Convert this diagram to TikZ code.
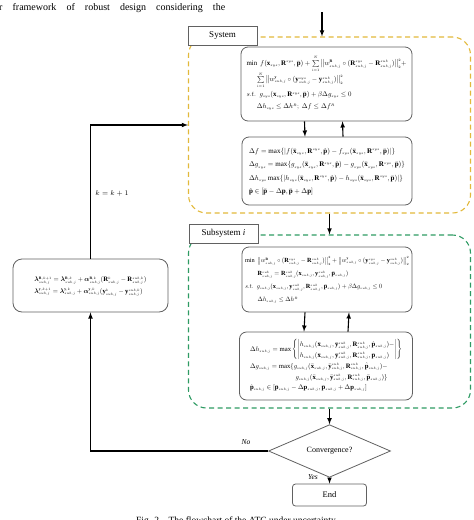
\documentclass[tikz,border=0pt]{standalone}
\usepackage{fontspec}
\setmainfont{Liberation Serif}
\usepackage{amsmath}
\usepackage{bm}
\usepackage{graphicx}
\usepackage{tikz}
\usetikzlibrary{shapes.geometric}
\DeclareMathSizes{10}{10}{5.5}{4.5}
\definecolor{hexcolor0xe2b93b}{rgb}{0.886,0.725,0.231}
\definecolor{hexcolor0x2e9b63}{rgb}{0.180,0.608,0.388}
\definecolor{mygray}{rgb}{0.380,0.380,0.380}
\definecolor{myblack}{rgb}{0.000,0.000,0.000}
\definecolor{mywhite}{rgb}{1.000,1.000,1.000}
\newcommand{\Rv}{\mathbf{R}}
\newcommand{\xv}{\mathbf{x}}
\newcommand{\yv}{\mathbf{y}}
\newcommand{\pv}{\mathbf{p}}
\newcommand{\fitbox}[3]{\resizebox{#1}{!}{\renewcommand{\arraystretch}{#2}\begin{tabular}{@{}l@{}}#3\end{tabular}}}
\tikzstyle{mathbox}=[rectangle,rounded corners=7,fill=mywhite,draw=mygray,line width=0.8,inner sep=1,font=\fontsize{10}{12}\selectfont]
\tikzstyle{tagbox}=[rectangle,fill=mywhite,draw=mygray,line width=0.8,minimum width=69,minimum height=19,font=\fontsize{9}{10}\selectfont]
\tikzstyle{sysframe}=[rectangle,rounded corners=18,draw=hexcolor0xe2b93b,line width=1.1,dash pattern=on 5pt off 3.5pt]
\tikzstyle{subframe}=[rectangle,rounded corners=18,draw=hexcolor0x2e9b63,line width=1.1,dash pattern=on 5pt off 3.5pt]
\tikzstyle{decision}=[diamond,draw=mygray,line width=0.8,fill=mywhite,inner sep=0,minimum width=122,minimum height=41,font=\fontsize{8}{10}\selectfont]
\tikzstyle{endbox}=[rectangle,rounded corners=3,draw=mygray,line width=0.8,minimum width=74,minimum height=22,font=\fontsize{8.5}{10}\selectfont]
\tikzstyle{flowarrow}=[-latex,line width=1.1,draw=myblack]
\tikzstyle{note}=[inner sep=0,font=\itshape\fontsize{7.5}{9}\selectfont]

\begin{document}
\begin{tikzpicture}[x=1pt,y=-1pt]
	\useasboundingbox (0,0) rectangle (474,520);
	% page text around the figure
	\node [anchor=west,inner sep=0,font=\fontsize{10}{12}\selectfont] (20) at (-1,8) {\makebox[226pt][s]{r framework of robust design considering the}};
	\node [inner sep=0,font=\fontsize{9.5}{11}\selectfont] (21) at (236,521) {Fig. 2\quad The flowchart of the ATC under uncertainty};
	% frames
	\node [style=sysframe,minimum width=282,minimum height=176] (10) at (329.5,125) {};
	\node [style=subframe,minimum width=282,minimum height=173] (12) at (329.5,321.5) {};
	\node [style=tagbox] (1) at (222.5,35.5) {System};
	\node [style=tagbox] (4) at (223.5,233.5) {Subsystem \textit{i}};
	% system level
	\node [style=mathbox,minimum width=171,minimum height=74] (2) at (326.5,84) {\fitbox{160pt}{1.45}{%
		$\min\ f(\xv_{sys},\Rv^{sys},\bar{\pv})+\sum\limits_{i=1}^{N}\big\|w^{\Rv}_{sub,j}\circ(\Rv^{sys}_{sub,j}-\Rv^{sub}_{sub,j})\big\|_2^2+$\\
		\hspace*{15pt}$\sum\limits_{i=1}^{N}\big\|w^{\yv}_{sub,j}\circ(\yv^{sys}_{sub,j}-\yv^{sub}_{sub,j})\big\|_2^2$\\
		$s.t.\ \ g_{sys}(\xv_{sys},\Rv^{sys},\bar{\pv})+\beta\Delta g_{sys}\le 0$\\
		\hspace*{15pt}$\Delta h_{sys}\le\Delta h^{R};\ \Delta f\le\Delta f^{R}$}};
	\node [style=mathbox,minimum width=170,minimum height=68] (3) at (327,171) {\fitbox{156pt}{1.6}{%
		$\Delta f=\max\{|f(\bar{\xv}_{sys},\Rv^{sys},\hat{\pv})-f_{sys}(\bar{\xv}_{sys},\Rv^{sys},\bar{\pv})|\}$\\
		$\Delta g_{sys}=\max\{g_{sys}(\bar{\xv}_{sys},\Rv^{sys},\hat{\pv})-g_{sys}(\bar{\xv}_{sys},\Rv^{sys},\bar{\pv})\}$\\
		$\Delta h_{sys}\max\{|h_{sys}(\bar{\xv}_{sys},\Rv^{sys},\hat{\pv})-h_{sys}(\bar{\xv}_{sys},\Rv^{sys},\bar{\pv})|\}$\\
		$\hat{\pv}\in[\bar{\pv}-\Delta\pv,\bar{\pv}+\Delta\pv]$}};
	% subsystem level
	\node [style=mathbox,minimum width=170,minimum height=65] (5) at (327,279.5) {\fitbox{164pt}{1.7}{%
		$\min\ \big\|w^{\Rv}_{sub,j}\circ(\Rv^{sys}_{sub,j}-\Rv^{sub}_{sub,j})\big\|_2^2+\big\|w^{\yv}_{sub,j}\circ(\yv^{sys}_{sub,j}-\yv^{sub}_{sub,j})\big\|_2^2$\\
		\hspace*{20pt}$\Rv^{sub}_{sub,j}=\Rv^{sub}_{sub,j}(\xv_{sub,j},\yv^{sub}_{sub,j},\bar{\pv}_{sub,j})$\\
		$s.t.\ \ g_{sub,j}(\xv_{sub,j},\yv^{sub}_{sub,j},\Rv^{sub}_{sub,j},\bar{\pv}_{sub,j})+\beta\Delta g_{sub,j}\le 0$\\
		\hspace*{20pt}$\Delta h_{sub,j}\le\Delta h^{R}$}};
	\node [style=mathbox,minimum width=173,minimum height=68] (6) at (326,366) {\fitbox{152pt}{1.35}{%
		$\Delta h_{sub,j}=\max\left\{\left|\begin{array}{@{}l@{}}h_{sub,j}(\bar{\xv}_{sub,j},\bar{\yv}^{sub}_{sub,j},\Rv^{sub}_{sub,j},\hat{\pv}_{sub,j})-\\ h_{sub,j}(\bar{\xv}_{sub,j},\bar{\yv}^{sub}_{sub,j},\Rv^{sub}_{sub,j},\bar{\pv}_{sub,j})\end{array}\right|\right\}$\\
		$\Delta g_{sub,j}=\max\{g_{sub,j}(\bar{\xv}_{sub,j},\bar{\yv}^{sub}_{sub,j},\Rv^{sub}_{sub,j},\hat{\pv}_{sub,j})-$\\
		\hspace*{68pt}$g_{sub,j}(\bar{\xv}_{sub,j},\bar{\yv}^{sub}_{sub,j},\Rv^{sub}_{sub,j},\bar{\pv}_{sub,j})\}$\\
		$\hat{\pv}_{sub,j}\in[\bar{\pv}_{sub,j}-\Delta\pv_{sub,j},\bar{\pv}_{sub,j}+\Delta\pv_{sub,j}]$}};
	% update and check
	\node [style=mathbox,rounded corners=9,minimum width=155,minimum height=53] (9) at (90.5,285.5) {\fitbox{112pt}{1.5}{%
		$\bm{\lambda}^{\Rv,k+1}_{sub,j}=\bm{\lambda}^{\Rv,k}_{sub,j}+\bm{\alpha}^{\Rv,k}_{sub,j}(\Rv^{k}_{sub,j}-\Rv^{sub,k}_{sub,j})$\\
		$\bm{\lambda}^{\yv,k+1}_{sub,j}=\bm{\lambda}^{\yv,k}_{sub,j}+\bm{\alpha}^{\yv,k}_{sub,j}(\yv^{k}_{sub,j}-\yv^{sub,k}_{sub,j})$}};
	\node [style=decision] (7) at (329.5,451) {Convergence?};
	\node [style=endbox] (8) at (329.5,495) {End};
	\coordinate (0) at (322,12);
	\node [style=note] (14) at (112,193) {$k=k+1$};
	\node [style=note] (15) at (246,442) {No};
	\node [style=note] (16) at (313,477) {Yes};
	% connectors
	\draw [style=flowarrow] (0) -- (0 |- 10.north);
	\draw [style=flowarrow] ([xshift=-22]2.south) -- ([xshift=-22]3.north);
	\draw [style=flowarrow] ([xshift=16]3.north) -- ([xshift=16]2.south);
	\draw [style=flowarrow] (10.south) -- (12.north);
	\draw [style=flowarrow] ([xshift=-22]5.south) -- ([xshift=-22]6.north);
	\draw [style=flowarrow] ([xshift=22]6.north) -- ([xshift=22]5.south);
	\draw [style=flowarrow] (12.south) -- (7.north);
	\draw [style=flowarrow] (7.south) -- (8.north);
	\draw [style=flowarrow] (7.west) -| (9.south);
	\draw [style=flowarrow] (9.north) |- (10.west);
\end{tikzpicture}
\end{document}
